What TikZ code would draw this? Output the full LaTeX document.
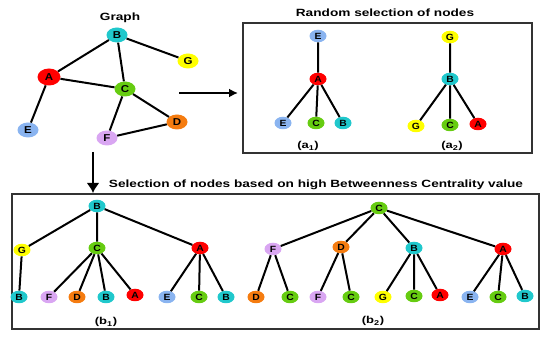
\documentclass[tikz,border=0pt]{standalone}
\usepackage{fontspec}
\setmainfont{Liberation Sans}
\newfontfamily\widesans[FakeStretch=1.3]{Liberation Sans}
\newfontfamily\nodesans[FakeStretch=1.15]{Liberation Sans}
\usetikzlibrary{arrows.meta, shapes.geometric}
\definecolor{colA}{HTML}{FF0000}
\definecolor{colB}{HTML}{20C8CC}
\definecolor{colC}{HTML}{66CC11}
\definecolor{colD}{HTML}{F57C10}
\definecolor{colE}{HTML}{8AB4F0}
\definecolor{colF}{HTML}{D9A6F2}
\definecolor{colG}{HTML}{FFFF00}

\begin{document}
\begin{tikzpicture}[x=1pt, y=-1pt,
    vtx/.style={ellipse, inner sep=0pt, minimum width=17pt, minimum height=12.5pt,
      font=\nodesans\bfseries\fontsize{9}{9}\selectfont},
    big/.style={minimum width=21pt, minimum height=15pt, font=\nodesans\bfseries\fontsize{10}{10}\selectfont},
    vA/.style={vtx, fill=colA}, vB/.style={vtx, fill=colB}, vC/.style={vtx, fill=colC},
    vD/.style={vtx, fill=colD}, vE/.style={vtx, fill=colE}, vF/.style={vtx, fill=colF},
    vG/.style={vtx, fill=colG},
    link/.style={line width=2pt},
    ttl/.style={font=\widesans\bfseries\fontsize{10.5}{12}\selectfont},
    lbl/.style={font=\widesans\bfseries\fontsize{10}{11}\selectfont},
    panel/.style={line width=1.2pt, draw=black!80}]
  \useasboundingbox (0,0) rectangle (550,339);

  % graph
  \node[ttl] (tg) at (120,18) {Graph};
  \node[vB, big] (gB) at (117,35) {B};
  \node[vG, big] (gG) at (188,61) {G};
  \node[vA, big, minimum width=23pt, minimum height=17pt] (gA) at (49,77) {A};
  \node[vC, big] (gC) at (125,89) {C};
  \node[vD, big] (gD) at (177,122) {D};
  \node[vE, big] (gE) at (28,130) {E};
  \node[vF, big] (gF) at (107,138) {F};
  \draw[link] (gB) -- (gA) (gB) -- (gG) (gB) -- (gC) (gA) -- (gC)
    (gA) -- (gE) (gC) -- (gD) (gC) -- (gF) (gF) -- (gD);

  % arrows
  \coordinate (r1) at (179,93); \coordinate (r2) at (238,93);
  \coordinate (d1) at (93,152); \coordinate (d2) at (93,193);
  \draw[link, -{Latex[length=9pt, width=9pt]}] (r1) -- (r2);
  \draw[link, -{Latex[length=10pt, width=13pt]}] (d1) -- (d2);

  % random selection
  \node[ttl] (ta) at (385,13) {Random selection of nodes};
  \draw[panel] (243,23) rectangle (532,153);
  \node[vE] (a1E) at (318,36) {E};
  \node[vA] (a1A) at (318,79) {A};
  \node[vE] (a1E2) at (283,123) {E};
  \node[vC] (a1C) at (316,123) {C};
  \node[vB] (a1B) at (343,123) {B};
  \draw[link] (a1E) -- (a1A) (a1A) -- (a1E2) (a1A) -- (a1C) (a1A) -- (a1B);
  \node[lbl] (la1) at (308,146) {(a\textsubscript{1})};
  \node[vG] (a2G) at (450,37) {G};
  \node[vB] (a2B) at (450,79) {B};
  \node[vG] (a2G2) at (416,126) {G};
  \node[vC] (a2C) at (450,125) {C};
  \node[vA] (a2A) at (478,124) {A};
  \draw[link] (a2G) -- (a2B) (a2B) -- (a2G2) (a2B) -- (a2C) (a2B) -- (a2A);
  \node[lbl] (la2) at (452,146) {(a\textsubscript{2})};

  % betweenness selection
  \node[ttl] (tb) at (316,185) {Selection of nodes based on high Betweenness Centrality value};
  \draw[panel] (12,194) rectangle (539,329);
  \node[vB] (pB) at (97,206) {B};
  \node[vG] (pG) at (22,250) {G};
  \node[vC] (pC) at (97,248) {C};
  \node[vA] (pA) at (200,248) {A};
  \node[vB] (pGB) at (19,297) {B};
  \node[vF] (pCF) at (49,297) {F};
  \node[vD] (pCD) at (77,297) {D};
  \node[vB] (pCB) at (106,297) {B};
  \node[vA] (pCA) at (135,295) {A};
  \node[vE] (pAE) at (167,297) {E};
  \node[vC] (pAC) at (199,297) {C};
  \node[vB] (pAB) at (226,297) {B};
  \draw[link] (pB) -- (pG) (pB) -- (pC) (pB) -- (pA) (pG) -- (pGB)
    (pC) -- (pCF) (pC) -- (pCD) (pC) -- (pCB) (pC) -- (pCA)
    (pA) -- (pAE) (pA) -- (pAC) (pA) -- (pAB);
  \node[lbl] (lb1) at (106,322) {(b\textsubscript{1})};

  \node[vC] (qC) at (379,208) {C};
  \node[vF] (qF) at (273,249) {F};
  \node[vD] (qD) at (341,247) {D};
  \node[vB] (qB) at (414,248) {B};
  \node[vA] (qA) at (503,249) {A};
  \node[vD] (qFD) at (256,297) {D};
  \node[vC] (qFC) at (290,297) {C};
  \node[vF] (qDF) at (318,297) {F};
  \node[vC] (qDC) at (351,297) {C};
  \node[vG] (qBG) at (383,297) {G};
  \node[vC] (qBC) at (414,296) {C};
  \node[vA] (qBA) at (440,295) {A};
  \node[vE] (qAE) at (470,297) {E};
  \node[vC] (qAC) at (498,297) {C};
  \node[vB] (qAB) at (525,296) {B};
  \draw[link] (qC) -- (qF) (qC) -- (qD) (qC) -- (qB) (qC) -- (qA)
    (qF) -- (qFD) (qF) -- (qFC) (qD) -- (qDF) (qD) -- (qDC)
    (qB) -- (qBG) (qB) -- (qBC) (qB) -- (qBA)
    (qA) -- (qAE) (qA) -- (qAC) (qA) -- (qAB);
  \node[lbl] (lb2) at (373,321) {(b\textsubscript{2})};
\end{tikzpicture}
\end{document}
